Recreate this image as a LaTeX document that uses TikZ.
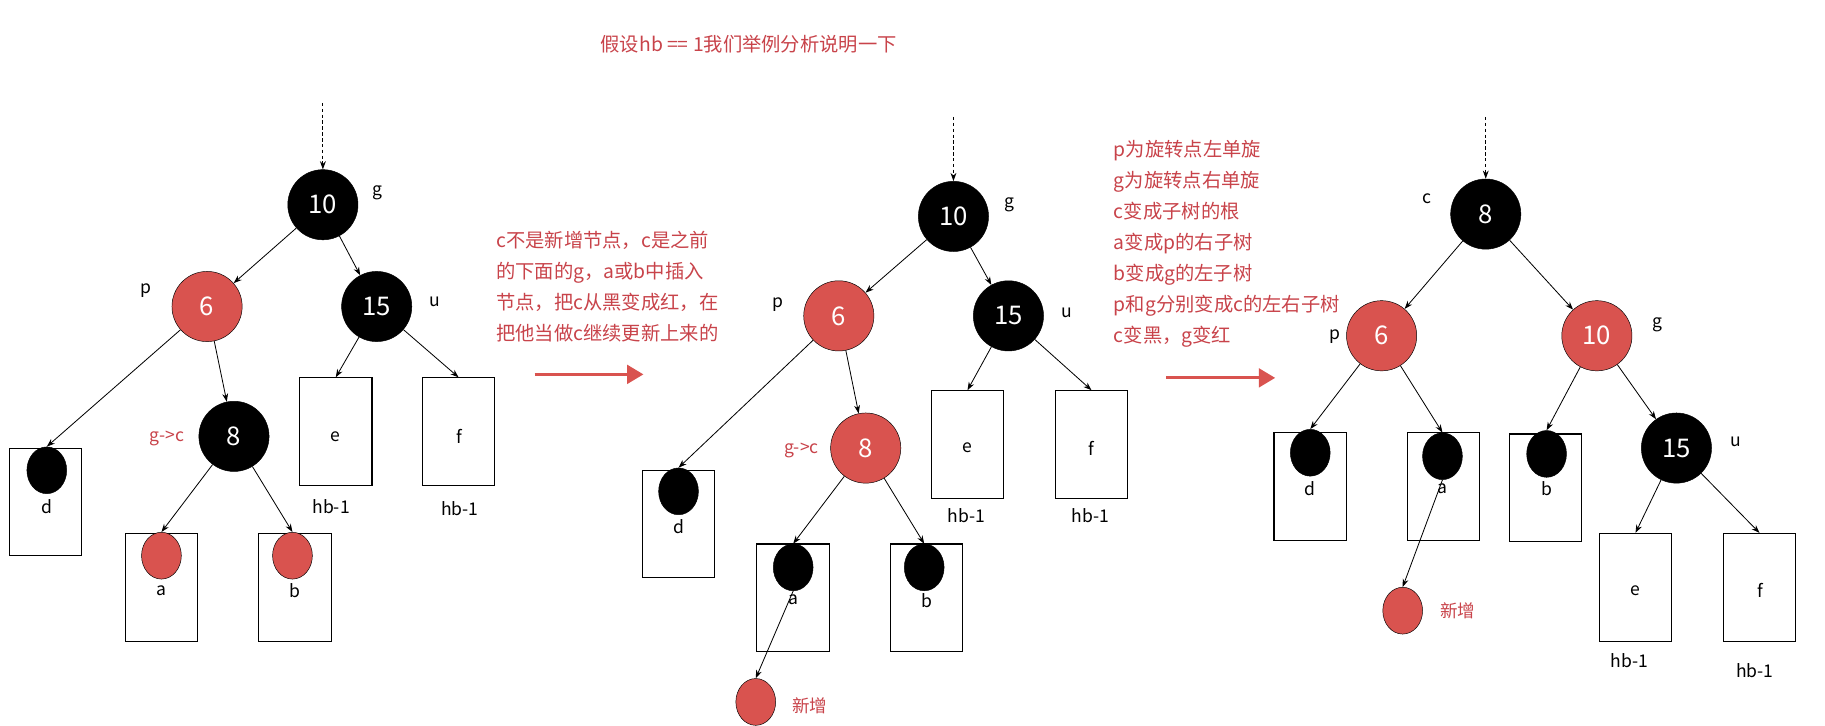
\documentclass[tikz,border=0pt]{standalone}
\usepackage{fontspec}
\setmainfont{Noto Sans CJK SC}
\usetikzlibrary{arrows.meta,shapes.geometric}
\definecolor{rbred}{HTML}{D9534F}
\definecolor{txred}{HTML}{C8434A}
\tikzset{
  x=1pt,y=-1pt,
  bn/.style={circle,draw=black,fill=black,text=white,minimum size=60pt,inner sep=0pt,font=\fontsize{22}{22}\selectfont},
  rn/.style={bn,fill=rbred},
  sbox/.style={draw=black,line width=0.9pt,minimum width=62pt,minimum height=92pt,inner sep=0pt},
  bdot/.style={ellipse,draw=black,fill=black,minimum width=34pt,minimum height=40pt,inner sep=0pt},
  rdot/.style={bdot,fill=rbred},
  lbl/.style={font=\fontsize{15}{15}\selectfont,inner sep=0pt},
  rlbl/.style={lbl,text=txred},
  edge/.style={-{Stealth[length=7pt,width=5pt]},line width=0.7pt},
  ptr/.style={edge,densely dashed},
  bigarr/.style={-{Triangle[length=14pt,width=16pt]},line width=2.5pt,draw=rbred},
  para/.style={text=txred,font=\fontsize{16.5}{26.5}\selectfont,align=left,anchor=north west,inner sep=0pt}
}
\begin{document}
\begin{tikzpicture}
\useasboundingbox (0,0) rectangle (1560,620);
\node[rlbl,font=\fontsize{16.5}{16.5}\selectfont] (title) at (640,38) {假设hb == 1我们举例分析说明一下};
% ---------- tree 1 ----------
\coordinate (t1s) at (276,88);
\node[bn] (a10) at (276,175) {10};
\node[lbl] (a10l) at (323,165) {g};
\node[rn] (a6) at (177,262) {6};
\node[lbl] (a6l) at (125,248) {p};
\node[bn] (a15) at (322,262) {15};
\node[lbl] (a15l) at (372,258) {u};
\node[bn] (a8) at (200,373) {8};
\node[rlbl] (a8l) at (143,375) {g->c};
\node[sbox] (ad) at (39,429) {};
\node[bdot] (add) at (40,402) {};
\node[lbl] (adl) at (40,433) {d};
\node[sbox] (aa) at (138,502) {};
\node[rdot] (aad) at (138,475) {};
\node[lbl] (aal) at (138,505) {a};
\node[sbox] (ab) at (252,502) {};
\node[rdot] (abd) at (250,475) {};
\node[lbl] (abl) at (252,505) {b};
\node[sbox] (ae) at (287,369) {};
\node[lbl] (ael) at (287,373) {e};
\node[lbl] (aeh) at (283,433) {hb-1};
\node[sbox] (af) at (392,369) {};
\node[lbl] (afl) at (393,373) {f};
\node[lbl] (afh) at (393,435) {hb-1};
\draw[ptr] (t1s) -- (a10);
\draw[edge] (a10) -- (a6);
\draw[edge] (a10) -- (a15);
\draw[edge] (a6) -- (add.north);
\draw[edge] (a6) -- (a8);
\draw[edge] (a8) -- (aad.north);
\draw[edge] (a8) -- (abd.north);
\draw[edge] (a15) -- (ae.north);
\draw[edge] (a15) -- (af.north);
% middle text
\node[para] (txt1) at (424,197) {c不是新增节点，c是之前\\的下面的g，a或b中插入\\节点，把c从黑变成红，在\\把他当做c继续更新上来的};
\coordinate (ar1s) at (457,320);
\coordinate (ar1e) at (550,320);
\draw[bigarr] (ar1s) -- (ar1e);
% ---------- tree 2 ----------
\coordinate (t2s) at (815,100);
\node[bn] (b10) at (815,185) {10};
\node[lbl] (b10l) at (863,175) {g};
\node[rn] (b6) at (717,270) {6};
\node[lbl] (b6l) at (665,260) {p};
\node[bn] (b15) at (862,270) {15};
\node[lbl] (b15l) at (912,267) {u};
\node[rn] (b8) at (740,383) {8};
\node[rlbl] (b8l) at (685,385) {g->c};
\node[sbox] (bd) at (580,448) {};
\node[bdot] (bdd) at (580,420) {};
\node[lbl] (bdl) at (580,450) {d};
\node[sbox] (ba) at (678,511) {};
\node[bdot] (bad) at (678,485) {};
\node[lbl] (bal) at (678,513) {a};
\node[sbox] (bb) at (792,511) {};
\node[bdot] (bbd) at (790,485) {};
\node[lbl] (bbl) at (792,513) {b};
\node[sbox] (be) at (827,380) {};
\node[lbl] (bel) at (827,383) {e};
\node[lbl] (beh) at (826,441) {hb-1};
\node[sbox] (bf) at (933,380) {};
\node[lbl] (bfl) at (933,383) {f};
\node[lbl] (bfh) at (932,441) {hb-1};
\node[rdot] (bnew) at (646,600) {};
\node[rlbl] (bnewl) at (692,603) {新增};
\draw[ptr] (t2s) -- (b10);
\draw[edge] (b10) -- (b6);
\draw[edge] (b10) -- (b15);
\draw[edge] (b6) -- (bdd.north);
\draw[edge] (b6) -- (b8);
\draw[edge] (b8) -- (bad.north);
\draw[edge] (b8) -- (bbd.north);
\draw[edge] (b15) -- (be.north);
\draw[edge] (b15) -- (bf.north);
\draw[edge] (bad.south) -- (bnew.north);
% right text
\node[para] (txt2) at (952,120) {p为旋转点左单旋\\g为旋转点右单旋\\c变成子树的根\\a变成p的右子树\\b变成g的左子树\\p和g分别变成c的左右子树\\c变黑，g变红};
\coordinate (ar2s) at (997,323);
\coordinate (ar2e) at (1090,323);
\draw[bigarr] (ar2s) -- (ar2e);
% ---------- tree 3 ----------
\coordinate (t3s) at (1270,100);
\node[bn] (c8) at (1270,183) {8};
\node[lbl] (c8l) at (1220,170) {c};
\node[rn] (c6) at (1181,287) {6};
\node[lbl] (c6l) at (1141,288) {p};
\node[rn] (c10) at (1365,287) {10};
\node[lbl] (c10l) at (1417,278) {g};
\node[sbox] (cd) at (1120,416) {};
\node[bdot] (cdd) at (1120,387) {};
\node[lbl] (cdl) at (1120,418) {d};
\node[sbox] (ca) at (1234,416) {};
\node[bdot] (cad) at (1233,390) {};
\node[lbl] (cal) at (1233,418) {a};
\node[sbox] (cb) at (1321,417) {};
\node[bdot] (cbd) at (1322,388) {};
\node[lbl] (cbl) at (1322,418) {b};
\node[bn] (c15) at (1433,383) {15};
\node[lbl] (c15l) at (1484,378) {u};
\node[sbox] (ce) at (1398,502) {};
\node[lbl] (cel) at (1398,505) {e};
\node[lbl] (ceh) at (1393,565) {hb-1};
\node[sbox] (cf) at (1504,502) {};
\node[lbl] (cfl) at (1505,505) {f};
\node[lbl] (cfh) at (1500,573) {hb-1};
\node[rdot] (cnew) at (1199,522) {};
\node[rlbl] (cnewl) at (1246,522) {新增};
\draw[ptr] (t3s) -- (c8);
\draw[edge] (c8) -- (c6);
\draw[edge] (c8) -- (c10);
\draw[edge] (c6) -- (cdd.north);
\draw[edge] (c6) -- (cad.north);
\draw[edge] (c10) -- (cbd.north);
\draw[edge] (c10) -- (c15);
\draw[edge] (c15) -- (ce.north);
\draw[edge] (c15) -- (cf.north);
\draw[edge] (cad.south) -- (cnew.north);
\end{tikzpicture}
\end{document}
